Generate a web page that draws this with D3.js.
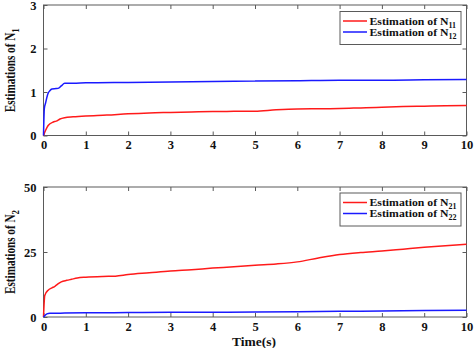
<!DOCTYPE html>
<html><head><meta charset="utf-8">
<script src="https://cdn.jsdelivr.net/npm/d3@7"></script>
<style>body{margin:0;background:#fff}svg{display:block}</style>
</head><body><svg id="c" width="474" height="348"></svg>
<script>
const xTicks = [0,1,2,3,4,5,6,7,8,9,10];
const yTicksTop = [0,1,2,3];
const yTicksBot = [0,25,50];

const tN11 = [0,0.05,0.11,0.23,0.3,0.39,0.5,0.7,1,1.5,2,2.5,3,3.5,4,4.5,5,5.5,6,6.5,7,7.5,8,8.5,9,9.5,10];
const vN11 = [0,0.12,0.23,0.31,0.33,0.38,0.41,0.43,0.45,0.47,0.50,0.52,0.53,0.54,0.55,0.555,0.56,0.59,0.61,0.615,0.62,0.635,0.65,0.665,0.675,0.685,0.69];
const tN12 = [0,0.02,0.05,0.1,0.15,0.2,0.3,0.36,0.42,0.5,0.7,1,2,3,4,5,6,7,8,9,10];
const vN12 = [0,0.62,0.75,0.95,1.03,1.07,1.08,1.09,1.14,1.2,1.2,1.21,1.22,1.23,1.24,1.25,1.26,1.27,1.27,1.28,1.29];
const tN21 = [0,0.03,0.11,0.2,0.27,0.35,0.42,0.55,0.66,0.8,1,1.4,1.7,2,2.5,3,3.5,4,4.5,5,5.5,6,6.5,7,7.5,8,8.5,9,9.5,10];
const vN21 = [0,8.3,10.3,11.2,11.8,12.8,13.5,14.1,14.5,15,15.3,15.6,15.7,16.3,17,17.7,18.2,18.8,19.3,19.9,20.4,21.2,22.7,24,24.8,25.4,26.1,26.8,27.4,28];
const tN22 = [0,0.08,0.15,0.5,1,2,3,4,5,6,7,8,9,10];
const vN22 = [0,1.2,1.4,1.5,1.6,1.7,1.8,1.85,1.9,2.0,2.2,2.3,2.5,2.6];

const svg = d3.select("#c");
const FONT = "'Liberation Serif','Times New Roman',serif";
const x = d3.scaleLinear().domain([0,10]).range([43.5,466.5]);
const axisColor = "#5a5a5a";

function panel(top, bottom, yDomain, yTicks, series, labelSub, legendTop, subs) {
  const y = d3.scaleLinear().domain(yDomain).range([bottom, top]);
  const g = svg.append("g");
  g.append("rect").attr("x", x.range()[0]).attr("y", top)
    .attr("width", x.range()[1]-x.range()[0]).attr("height", bottom-top)
    .attr("fill","none").attr("stroke", axisColor).attr("stroke-width",1);
  const fmt = d => d;
  const ax = g.append("g").attr("transform",`translate(0,${bottom})`)
    .call(d3.axisBottom(x).tickValues(xTicks).tickSize(-4).tickPadding(5).tickFormat(fmt));
  const axT = g.append("g").attr("transform",`translate(0,${top})`)
    .call(d3.axisTop(x).tickValues(xTicks).tickSize(-4).tickFormat(""));
  const ay = g.append("g").attr("transform",`translate(${x.range()[0]},0)`)
    .call(d3.axisLeft(y).tickValues(yTicks).tickSize(-4).tickPadding(7).tickFormat(fmt));
  const ayR = g.append("g").attr("transform",`translate(${x.range()[1]},0)`)
    .call(d3.axisRight(y).tickValues(yTicks).tickSize(-4).tickFormat(""));
  [ax,axT,ay,ayR].forEach(a=>{
    a.select(".domain").remove();
    a.selectAll(".tick line").attr("stroke",axisColor);
    a.selectAll("text").attr("font-family",FONT).attr("font-weight","bold")
      .attr("font-size",12.5).attr("fill","#111");
  });
  const line = d3.line().x(d=>x(d[0])).y(d=>y(d[1])).curve(d3.curveMonotoneX);
  series.forEach(s=>{
    g.append("path").datum(d3.zip(s.t, s.v)).attr("d", line)
      .attr("fill","none").attr("stroke", s.color).attr("stroke-width",1.5);
  });
  const cy = (top+bottom)/2;
  const lab = g.append("g").attr("transform",`translate(15,${cy}) rotate(-90) scale(0.8,1)`);
  const tx = lab.append("text").attr("text-anchor","middle").attr("font-family",FONT)
    .attr("font-weight","bold").attr("font-size",14).attr("fill","#111");
  tx.append("tspan").text("Estimations of N");
  tx.append("tspan").attr("dy",4).attr("font-size",11).text(labelSub);
  const lx = 340, lw = 121, lh = 33;
  const lg = g.append("g");
  lg.append("rect").attr("x",lx).attr("y",legendTop).attr("width",lw).attr("height",lh)
    .attr("fill","#fff").attr("stroke",axisColor).attr("stroke-width",1);
  series.forEach((s,i)=>{
    const ry = legendTop + 9.5 + i*11;
    lg.append("line").attr("x1",343).attr("x2",367).attr("y1",ry).attr("y2",ry)
      .attr("stroke",s.color).attr("stroke-width",1.5);
    const t = lg.append("text").attr("x",369.5).attr("y",ry+3.5).attr("font-family",FONT)
      .attr("font-weight","bold").attr("font-size",10.5).attr("fill","#111");
    t.append("tspan").attr("textLength",79).attr("lengthAdjust","spacingAndGlyphs").text("Estimation of N");
    t.append("tspan").attr("dy",3).attr("font-size",8).text(subs[i]);
  });
}

panel(5, 135.5, [0,3], yTicksTop,
  [{t:tN11,v:vN11,color:"#ff1a1a"},{t:tN12,v:vN12,color:"#1a1aff"}],
  "1", 11.5, ["11","12"]);
panel(187, 317, [0,50], yTicksBot,
  [{t:tN21,v:vN21,color:"#ff1a1a"},{t:tN22,v:vN22,color:"#1a1aff"}],
  "2", 193, ["21","22"]);

svg.append("text").attr("x",254).attr("y",346).attr("text-anchor","middle")
  .attr("font-family",FONT).attr("font-weight","bold").attr("font-size",13.5).attr("fill","#111")
  .text("Time(s)");
</script></body></html>
